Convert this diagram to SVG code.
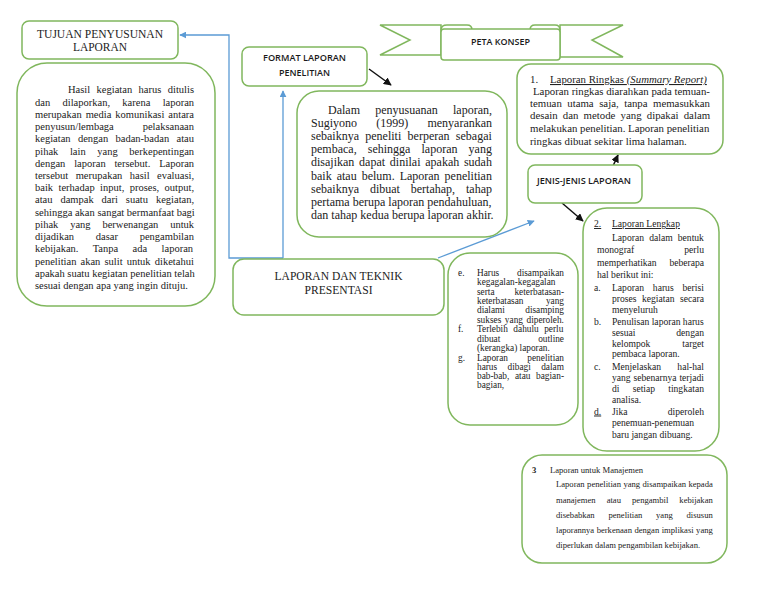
<svg xmlns="http://www.w3.org/2000/svg" width="768" height="594" viewBox="0 0 768 594">
<style>
.box{fill:#fff;stroke:#80b75d;stroke-width:1.5}
.serif{font-family:"Liberation Serif","Times New Roman",serif;fill:#222}
.sans{font-family:"Open Sans","Liberation Sans",Arial,sans-serif;font-weight:600;fill:#1a1a1a}
.blue{fill:none;stroke:#5b9bd5;stroke-width:1.3}
.blk{fill:none;stroke:#111;stroke-width:1.5}
.t105{font-size:10.5px}
.t12{font-size:12px}
.t108{font-size:10.8px}
.t96{font-size:9.6px}
.t93{font-size:9.3px}
.t86{font-size:8.6px}
.u{text-decoration:underline}
.e{text-anchor:end}
</style>
<defs>
<marker id="ab" viewBox="0 0 10 10" refX="9" refY="5" markerWidth="7" markerHeight="7" markerUnits="userSpaceOnUse" orient="auto"><path d="M0,0 L10,5 L0,10 z" fill="#5b9bd5"/></marker>
<marker id="ak" viewBox="0 0 10 10" refX="9" refY="5" markerWidth="8" markerHeight="8" markerUnits="userSpaceOnUse" orient="auto"><path d="M0,0 L10,5 L0,10 z" fill="#111"/></marker>
</defs>

<g id="connectors">
<path class="blue" d="M283,258 L283,91" marker-end="url(#ab)"/>
<path class="blue" d="M283,258 L229,258 L229,35 L180,35" marker-end="url(#ab)"/>
<path class="blue" d="M438,258 L534,221" marker-end="url(#ab)"/>
<path class="blk" d="M369,69 L391,85" marker-end="url(#ak)"/>
<path class="blk" d="M613,166 L618,155" marker-end="url(#ak)"/>
<path class="blk" d="M562,203 L583,221" marker-end="url(#ak)"/>
</g>

<g id="peta-konsep">
<path class="box" d="M380,25 L441,25 L441,55 L380,55 L410,40 z"/>
<path class="box" d="M623,25 L560,25 L560,57 L623,57 L592,40 z"/>
<path class="box" d="M441,30 Q441,25 447,25 L467,25 Q472,25 472,30"/>
<path class="box" d="M530,30 Q530,25 535,25 L555,25 Q560,25 560,30"/>
<rect class="box" x="441" y="29" width="119" height="31" rx="3"/>
<text class="sans" x="500.5" y="45" font-size="8.6" text-anchor="middle" textLength="59" lengthAdjust="spacingAndGlyphs">PETA KONSEP</text>
</g>

<g id="tujuan">
<rect class="box" x="22" y="21" width="156" height="38" rx="7"/>
<text class="serif" x="100" y="37.5" font-size="12" text-anchor="middle" textLength="126" lengthAdjust="spacingAndGlyphs">TUJUAN PENYUSUNAN</text>
<text class="serif" x="100" y="50.5" font-size="12" text-anchor="middle" textLength="54" lengthAdjust="spacingAndGlyphs">LAPORAN</text>
</g>

<g id="tujuan-text" class="serif t105">
<rect class="box" x="17" y="63" width="198" height="243" rx="30"/>
<text x="68" y="93.3" word-spacing="3.8">Hasil kegiatan harus ditulis</text>
<text x="35" y="105.5" word-spacing="9.7">dan dilaporkan, karena laporan</text>
<text x="35" y="117.8" word-spacing="1.4">merupakan media komunikasi antara</text>
<text x="35" y="130">penyusun/lembaga</text><text class="e" x="194" y="130">pelaksanaan</text>
<text x="35" y="142.2" word-spacing="4.7">kegiatan dengan badan-badan atau</text>
<text x="35" y="154.5" word-spacing="9">pihak lain yang berkepentingan</text>
<text x="35" y="166.7" word-spacing="6.2">dengan laporan tersebut. Laporan</text>
<text x="35" y="179" word-spacing="4.8">tersebut merupakan hasil evaluasi,</text>
<text x="35" y="191.2" word-spacing="2.8">baik terhadap input, proses, output,</text>
<text x="35" y="203.4" word-spacing="5.3">atau dampak dari suatu kegiatan,</text>
<text x="35" y="215.7">sehingga akan sangat bermanfaat bagi</text>
<text x="35" y="227.9" word-spacing="9.2">pihak yang berwenangan untuk</text>
<text x="35" y="240.2" word-spacing="19.1">dijadikan dasar pengambilan</text>
<text x="35" y="252.4" word-spacing="11.8">kebijakan. Tanpa ada laporan</text>
<text x="35" y="264.6" word-spacing="1.5">penelitian akan sulit untuk diketahui</text>
<text x="35" y="276.9">apakah suatu kegiatan penelitian telah</text>
<text x="35" y="289.1">sesuai dengan apa yang ingin dituju.</text>
</g>

<g id="format">
<rect class="box" x="242" y="47" width="125" height="39" rx="7"/>
<text class="sans" x="304.5" y="61" font-size="8.8" text-anchor="middle" textLength="83" lengthAdjust="spacingAndGlyphs">FORMAT LAPORAN</text>
<text class="sans" x="304.5" y="76" font-size="8.8" text-anchor="middle" textLength="51" lengthAdjust="spacingAndGlyphs">PENELITIAN</text>
</g>

<g id="format-text" class="serif t12">
<rect class="box" x="297" y="91" width="210" height="146" rx="22"/>
<text x="328" y="114" word-spacing="12.2">Dalam penyusuanan laporan,</text>
<text x="311" y="127.1" word-spacing="16.2">Sugiyono (1999) menyarankan</text>
<text x="311" y="140.2" word-spacing="3.3">sebaiknya peneliti berperan sebagai</text>
<text x="311" y="153.3" word-spacing="8.1">pembaca, sehingga laporan yang</text>
<text x="311" y="166.4" word-spacing="1.75">disajikan dapat dinilai apakah sudah</text>
<text x="311" y="179.5" word-spacing="2">baik atau belum. Laporan penelitian</text>
<text x="311" y="192.6" word-spacing="7.9">sebaiknya dibuat bertahap, tahap</text>
<text x="311" y="205.7">pertama berupa laporan pendahuluan,</text>
<text x="311" y="218.8">dan tahap kedua berupa laporan akhir.</text>
</g>

<g id="ringkas" class="serif t108">
<rect class="box" x="517" y="64" width="206" height="90" rx="14"/>
<text x="530" y="83">1.</text>
<text x="550" y="83" class="u">Laporan Ringkas <tspan font-style="italic">(Summary Report)</tspan></text>
<text x="533" y="95">Laporan ringkas diarahkan pada temuan-</text>
<text x="530" y="107" word-spacing="2.8">temuan utama saja, tanpa memasukkan</text>
<text x="530" y="119" word-spacing="2.5">desain dan metode yang dipakai dalam</text>
<text x="530" y="131.5">melakukan penelitian. Laporan penelitian</text>
<text x="530" y="144.5">ringkas dibuat sekitar lima halaman.</text>
</g>

<g id="jenis">
<rect class="box" x="528" y="165" width="114" height="38" rx="7"/>
<text class="sans" x="584" y="183.5" font-size="8.8" text-anchor="middle" textLength="94" lengthAdjust="spacingAndGlyphs">JENIS-JENIS LAPORAN</text>
</g>

<g id="lengkap" class="serif t96">
<rect class="box" x="583" y="208" width="136" height="243" rx="24"/>
<text x="594" y="227" class="u">2.</text>
<text x="612" y="227" class="u">Laporan Lengkap</text>
<text x="612" y="241" word-spacing="2.8">Laporan dalam bentuk</text>
<text x="597" y="253">monograf</text><text class="e" x="704" y="253">perlu</text>
<text x="597" y="265.5">memperhatikan</text><text class="e" x="704" y="265.5">beberapa</text>
<text x="597" y="278">hal berikut ini:</text>
<text x="594" y="290.5">a.</text>
<text x="612" y="290.5" word-spacing="6.5">Laporan harus berisi</text>
<text x="612" y="301.5" word-spacing="3.1">proses kegiatan secara</text>
<text x="612" y="312.7">menyeluruh</text>
<text x="594" y="324.7">b.</text>
<text x="612" y="324.7">Penulisan laporan harus</text>
<text x="612" y="335.5">sesuai</text><text class="e" x="704" y="335.5">dengan</text>
<text x="612" y="346.5">kelompok</text><text class="e" x="704" y="346.5">target</text>
<text x="612" y="357">pembaca laporan.</text>
<text x="594" y="369.5">c.</text>
<text x="612" y="369.5">Menjelaskan</text><text class="e" x="704" y="369.5">hal-hal</text>
<text x="612" y="380.5" word-spacing="0.4">yang sebenarnya terjadi</text>
<text x="612" y="392" word-spacing="10.8">di setiap tingkatan</text>
<text x="612" y="403">analisa.</text>
<text x="594" y="414.5" class="u">d.</text>
<text x="612" y="414.5">Jika</text><text class="e" x="704" y="414.5">diperoleh</text>
<text x="612" y="425.7">penemuan-penemuan</text>
<text x="612" y="438">baru jangan dibuang.</text>
</g>

<g id="center">
<rect class="box" x="233" y="259" width="211" height="56" rx="11"/>
<text class="serif" x="338.5" y="279.5" font-size="12.5" text-anchor="middle" textLength="128" lengthAdjust="spacingAndGlyphs">LAPORAN DAN TEKNIK</text>
<text class="serif" x="338.5" y="293.5" font-size="12.5" text-anchor="middle" textLength="68" lengthAdjust="spacingAndGlyphs">PRESENTASI</text>
</g>

<g id="efg" class="serif t93">
<rect class="box" x="448" y="253" width="130" height="172" rx="22"/>
<text x="458" y="275.5">e.</text>
<text x="477" y="275.5">Harus</text><text class="e" x="564" y="275.5">disampaikan</text>
<text x="477" y="284.9">kegagalan-kegagalan</text>
<text x="477" y="294.6">serta</text><text class="e" x="564" y="294.6">keterbatasan-</text>
<text x="477" y="304.4">keterbatasan</text><text class="e" x="564" y="304.4">yang</text>
<text x="477" y="313.3">dialami</text><text class="e" x="564" y="313.3">disamping</text>
<text x="477" y="323" word-spacing="1.25">sukses yang diperoleh.</text>
<text x="458" y="332.4">f.</text>
<text x="477" y="332.4" word-spacing="3.2">Terlebih dahulu perlu</text>
<text x="477" y="341.8">dibuat</text><text class="e" x="564" y="341.8">outline</text>
<text x="477" y="351.2">(kerangka) laporan.</text>
<text x="458" y="360.5">g.</text>
<text x="477" y="360.5">Laporan</text><text class="e" x="564" y="360.5">penelitian</text>
<text x="477" y="369.9" word-spacing="8.1">harus dibagi dalam</text>
<text x="477" y="379.2" word-spacing="3.35">bab-bab, atau bagian-</text>
<text x="477" y="388.3">bagian,</text>
</g>

<g id="manajemen" class="serif t86">
<rect class="box" x="522" y="455" width="205" height="108" rx="20"/>
<text x="532" y="473" font-weight="bold">3</text>
<text x="550" y="473">Laporan untuk Manajemen</text>
<text x="556" y="486.5" word-spacing="0.3">Laporan penelitian yang disampaikan kepada</text>
<text x="556" y="503" word-spacing="8.9">manajemen atau pengambil kebijakan</text>
<text x="556" y="518" word-spacing="11.6">disebabkan penelitian yang disusun</text>
<text x="556" y="533" word-spacing="0.3">laporannya berkenaan dengan implikasi yang</text>
<text x="556" y="548">diperlukan dalam pengambilan kebijakan.</text>
</g>
</svg>
